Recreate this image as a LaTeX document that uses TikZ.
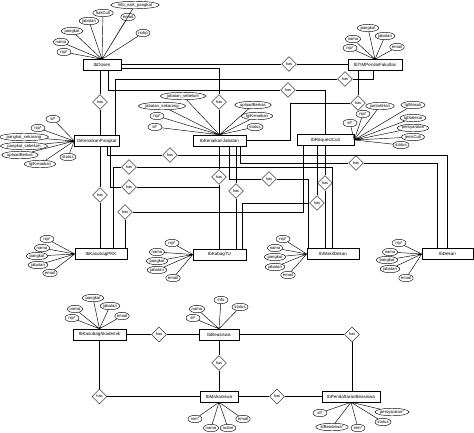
\documentclass[tikz,border=0pt]{standalone}
\usepackage{fontspec}
\setmainfont{Liberation Sans}
\usetikzlibrary{shapes.geometric}

\begin{document}
\begin{tikzpicture}[x=1pt,y=-1pt,line width=0.45pt,
		every node/.style={font=\fontsize{4}{4.5}\selectfont},
		tabel/.style={draw,rectangle,fill=white,minimum height=11pt,inner sep=0.5pt,font=\fontsize{4.5}{5}\selectfont},
		atr/.style={draw,ellipse,fill=white,inner xsep=0.1pt,inner ysep=0.2pt,minimum width=14pt,minimum height=7.5pt,font=\fontsize{4.2}{4.5}\selectfont},
		rel/.style={draw,diamond,fill=white,aspect=1,inner sep=0pt,minimum size=15pt}]
		\useasboundingbox (0,0) rectangle (474,432);
		% tabel
		\node[tabel,minimum width=38pt] (dosen) at (102,65) {tbDosen};
		\node[tabel,minimum width=54pt] (tim) at (375,65) {tbTIMPenilaiFakultas};
		\node[tabel,minimum width=45pt] (kp) at (97,141) {tbKenaikanPangkat};
		\node[tabel,minimum width=53pt] (kj) at (219.5,140.5) {tbKenaikanJabatan};
		\node[tabel,minimum width=57pt] (rc) at (325.5,140) {tbRequestCuti};
		\node[tabel,minimum width=52pt] (pkk) at (101,254) {tbKasubagPKK};
		\node[tabel,minimum width=53pt] (tu) at (219.5,254.5) {tbKabagTU};
		\node[tabel,minimum width=52pt] (wd) at (333,254) {tbWakilDekan};
		\node[tabel,minimum width=51pt] (dekan) at (447.5,254) {tbDekan};
		\node[tabel,minimum width=53pt] (akad) at (99.5,334.5) {tbKasubagAkademik};
		\node[tabel,minimum width=40pt] (beas) at (219,334.5) {tbBeasiswa};
		\node[tabel,minimum width=38pt] (mhs) at (219,396.5) {tbMahasiswa};
		\node[tabel,minimum width=58pt] (pend) at (351,396.5) {tbPendaftaranBeasiswa};
		% atribut
		\node[atr] (d1) at (64,52) {nip*};
		\node[atr] (d2) at (61,42) {nama};
		\node[atr] (d3) at (72,31) {pangkat};
		\node[atr] (d4) at (89,21) {jabatan};
		\node[atr] (d5) at (103,13) {hakCuti};
		\node[atr] (d6) at (135,5) {info\_naik\_pangkat};
		\node[atr] (d7) at (128,17) {email};
		\node[atr] (d8) at (143,33) {nohp};
		\draw (dosen.north) -- (d1) (dosen.north) -- (d2) (dosen.north) -- (d3) (dosen.north) -- (d4)
			(dosen.north) -- (d5) (dosen.north) -- (d6) (dosen.north) -- (d7) (dosen.north) -- (d8);
		\node[atr] (t1) at (350,48) {nip*};
		\node[atr] (t2) at (353,39) {nama};
		\node[atr] (t3) at (368,28) {pangkat};
		\node[atr] (t4) at (385,36) {jabatan};
		\node[atr] (t5) at (397,47) {email};
		\draw (tim.north) -- (t1) (tim.north) -- (t2) (tim.north) -- (t3) (tim.north) -- (t4) (tim.north) -- (t5);
		\node[atr] (p1) at (53,119) {id*};
		\node[atr] (p2) at (38,128) {nip*};
		\node[atr] (p3) at (24,137) {pangkat\_sekarang};
		\node[atr] (p4) at (24,146) {pangkat\_sebelum};
		\node[atr] (p5) at (20,155) {uploadBerkas};
		\node[atr] (p6) at (40,164) {tglKenaikan};
		\node[atr] (p7) at (68,157) {status};
		\draw (kp.west) -- (p1) (kp.west) -- (p2) (kp.west) -- (p3) (kp.west) -- (p4)
			(kp.west) -- (p5) (kp.west) -- (p6) (kp.west) -- (p7);
		\node[atr] (j1) at (183,96) {jabatan\_sebelum};
		\node[atr] (j2) at (162,106) {jabatan\_sekarang};
		\node[atr] (j3) at (157,116) {nip*};
		\node[atr] (j4) at (155,127) {id*};
		\node[atr] (j5) at (253,105) {uploadBerkas};
		\node[atr] (j6) at (257,116) {tglKenaikan};
		\node[atr] (j7) at (255,127) {status};
		\draw (kj.north) -- (j1) (kj.north) -- (j2) (kj.north) -- (j3) (kj.north) -- (j4)
			(kj.north) -- (j5) (kj.north) -- (j6) (kj.north) -- (j7);
		\node[atr] (q1) at (350,123) {id*};
		\node[atr] (q2) at (363,114) {nip*};
		\node[atr] (q3) at (380,106) {jumlahHari};
		\node[atr] (q4) at (413,105) {tglMasuk};
		\node[atr] (q5) at (413,118) {tglSelesai};
		\node[atr] (q6) at (413,128) {persyaratan};
		\node[atr] (q7) at (413,137) {jenisCuti};
		\node[atr] (q8) at (401,145) {status};
		\draw (rc.east) -- (q1) (rc.east) -- (q2) (rc.east) -- (q3) (rc.east) -- (q4)
			(rc.east) -- (q5) (rc.east) -- (q6) (rc.east) -- (q7) (rc.east) -- (q8);
		\node[atr] (k1) at (47,239) {nip*};
		\node[atr] (k2) at (42,248) {nama};
		\node[atr] (k3) at (37,256) {pangkat};
		\node[atr] (k4) at (38,265) {jabatan};
		\node[atr] (k5) at (50,273) {email};
		\draw (pkk.west) -- (k1) (pkk.west) -- (k2) (pkk.west) -- (k3) (pkk.west) -- (k4) (pkk.west) -- (k5);
		\node[atr] (u1) at (172,243) {nip*};
		\node[atr] (u2) at (157,252) {nama};
		\node[atr] (u3) at (157,261) {pangkat};
		\node[atr] (u4) at (157,270) {jabatan};
		\node[atr] (u5) at (173,278) {email};
		\draw (tu.west) -- (u1) (tu.west) -- (u2) (tu.west) -- (u3) (tu.west) -- (u4) (tu.west) -- (u5);
		\node[atr] (w1) at (283,239) {nip*};
		\node[atr] (w2) at (275,248) {nama};
		\node[atr] (w3) at (275,257) {pangkat};
		\node[atr] (w4) at (275,267) {jabatan};
		\node[atr] (w5) at (288,275) {email};
		\draw (wd.west) -- (w1) (wd.west) -- (w2) (wd.west) -- (w3) (wd.west) -- (w4) (wd.west) -- (w5);
		\node[atr] (e1) at (399,243) {nip*};
		\node[atr] (e2) at (390,252) {nama};
		\node[atr] (e3) at (387,260) {pangkat};
		\node[atr] (e4) at (390,269) {jabatan};
		\node[atr] (e5) at (406,278) {email};
		\draw (dekan.west) -- (e1) (dekan.west) -- (e2) (dekan.west) -- (e3) (dekan.west) -- (e4) (dekan.west) -- (e5);
		\node[atr] (a1) at (72,318) {nip*};
		\node[atr] (a2) at (75,309) {nama};
		\node[atr] (a3) at (93,298) {pangkat};
		\node[atr] (a4) at (110,306) {jabatan};
		\node[atr] (a5) at (122,316) {email};
		\draw (akad.north) -- (a1) (akad.north) -- (a2) (akad.north) -- (a3) (akad.north) -- (a4) (akad.north) -- (a5);
		\node[atr] (s1) at (193,318) {id*};
		\node[atr] (s2) at (197,309) {nama};
		\node[atr] (s3) at (221,300) {info};
		\node[atr] (s4) at (240,307) {status};
		\draw (beas.north) -- (s1) (beas.north) -- (s2) (beas.north) -- (s3) (beas.north) -- (s4);
		\node[atr] (n1) at (195,419) {nim*};
		\node[atr] (n2) at (211,428) {nama};
		\node[atr] (n3) at (228,428) {active};
		\node[atr] (n4) at (243,419) {email};
		\draw (mhs.south) -- (n1) (mhs.south) -- (n2) (mhs.south) -- (n3) (mhs.south) -- (n4);
		\node[atr] (f1) at (320,413) {id*};
		\node[atr] (f2) at (332,427) {idBeasiswa*};
		\node[atr] (f3) at (358,428) {nim*};
		\node[atr] (f4) at (383,422) {status};
		\node[atr] (f5) at (392,412) {persyaratan*};
		\draw (pend.south) -- (f1) (pend.south) -- (f2) (pend.south) -- (f3) (pend.south) -- (f4) (pend.south) -- (f5);
		% relasi atas
		\node[rel] (h1) at (289,64) {has};
		\node[rel] (h2) at (100,102) {has};
		\node[rel] (h3) at (219,102) {has};
		\node[rel] (h4) at (345,79) {has};
		\node[rel] (h5) at (288,90) {has};
		\node[rel] (h6) at (358,103) {has};
		\coordinate (v1) at (219,68);
		\coordinate (v2) at (108,90);
		\coordinate (v3) at (325,90);
		\coordinate (v4) at (373,79);
		\coordinate (v5) at (115,79);
		\coordinate (v6) at (290,103);
		\coordinate (v7) at (290,140);
		\draw (dosen.east |- h1) -- (h1) -- (tim.west |- h1);
		\draw (dosen.east |- v1) -- (v1) -- (h3) -- (kj.north -| h3);
		\draw (dosen.south -| h2) -- (h2) -- (kp.north -| h2);
		\draw (dosen.south -| v2) -- (v2) -- (h5) -- (v3) -- (rc.north -| v3);
		\draw (tim.south -| v4) -- (v4) -- (h4) -- (v5) -- (kp.north -| v5);
		\draw (tim.south -| h6) -- (h6) -- (v6) -- (v7) -- (kj.east |- v7);
		% relasi tengah
		\node[rel] (r1) at (170,155) {has};
		\node[rel] (r2) at (129,167) {has};
		\node[rel] (r3) at (129,187) {has};
		\node[rel] (r4) at (219,177) {has};
		\node[rel] (r5) at (269,179) {has};
		\node[rel] (r6) at (236,191) {has};
		\node[rel] (r7) at (100,195) {has};
		\node[rel] (r8) at (125,212) {has};
		\node[rel] (r9) at (356,163) {has};
		\node[rel] (r10) at (325,183) {has};
		\node[rel] (r11) at (317,203) {has};
		\coordinate (v8) at (107,155);
		\coordinate (v9) at (447,155);
		\coordinate (v10) at (113,167);
		\coordinate (v11) at (332,167);
		\coordinate (v12) at (110,187);
		\coordinate (v13) at (219,187);
		\coordinate (v14) at (229,179);
		\coordinate (v15) at (308,179);
		\coordinate (v16) at (242,203);
		\coordinate (v17) at (303,212);
		\coordinate (v18) at (240,163);
		\coordinate (v19) at (437,163);
		\draw (kp.south -| v8) -- (v8) -- (r1) -- (v9) -- (dekan.north -| v9);
		\draw (pkk.north -| v10) -- (v10) -- (r2) -- (v11) -- (wd.north -| v11);
		\draw (kp.south -| v12) -- (v12) -- (r3) -- (v13) -- (tu.north -| v13);
		\draw (kj.south -| r4) -- (r4) -- (v13);
		\draw (kp.south -| r7) -- (r7) -- (pkk.north -| r7);
		\draw (kj.south -| v14) -- (v14) -- (r5) -- (v15) -- (wd.north -| v15);
		\draw (kj.south -| r6) -- (r6) -- (tu.north -| r6);
		\draw (rc.south -| r11) -- (r11) -- (v16) -- (tu.north -| v16);
		\draw (rc.south -| v17) -- (v17) -- (r8) -- (pkk.north -| r8);
		\draw (rc.south -| r10) -- (r10) -- (wd.north -| r10);
		\draw (kj.south -| v18) -- (v18) -- (r9) -- (v19) -- (dekan.north -| v19);
		% relasi bawah
		\node[rel] (b1) at (159,334.5) {has};
		\node[rel] (b2) at (99.5,396.5) {has};
		\node[rel] (b3) at (219,363) {has};
		\node[rel] (b4) at (352,334.5) {has};
		\node[rel] (b5) at (277,396.5) {has};
		\draw (akad) -- (b1) -- (beas);
		\draw (akad) -- (b2) -- (mhs);
		\draw (beas) -- (b3) -- (mhs);
		\draw (beas) -- (b4) -- (pend.north -| b4);
		\draw (mhs) -- (b5) -- (pend);
	\end{tikzpicture}
\end{document}
